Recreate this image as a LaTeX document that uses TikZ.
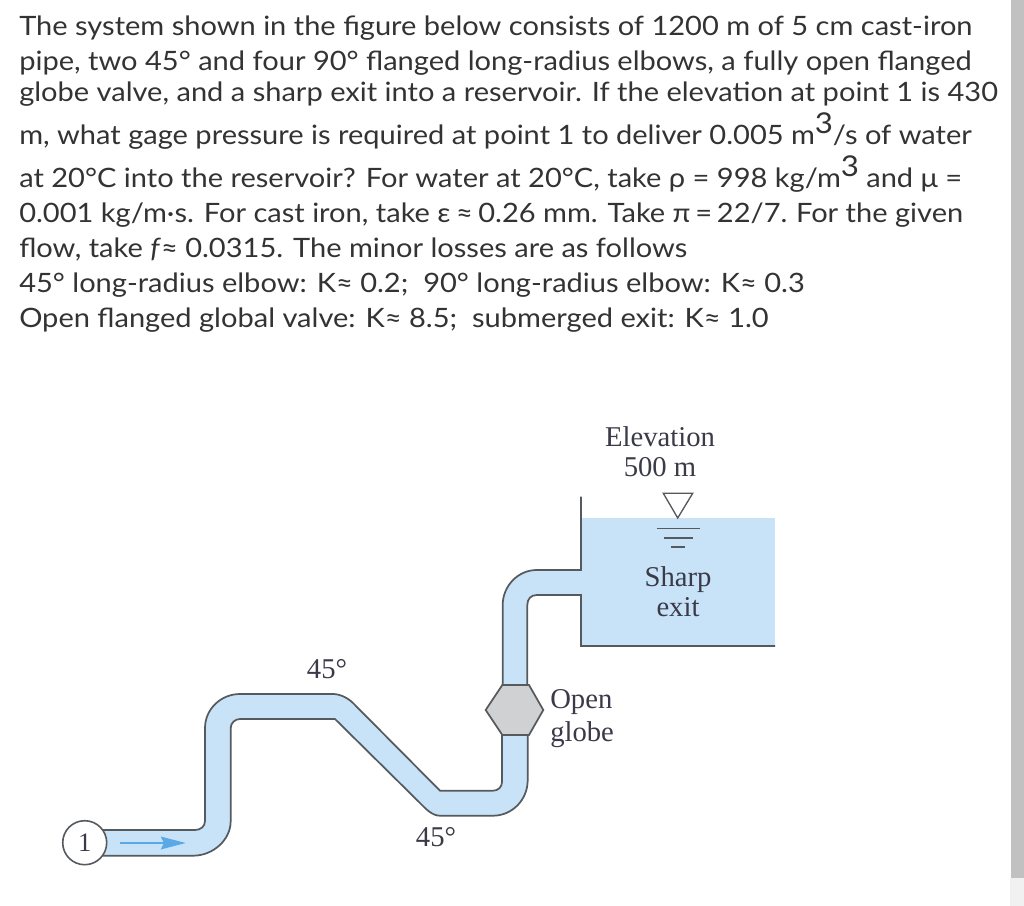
\documentclass[tikz,border=0pt]{standalone}
\usepackage{fontspec}
\setmainfont[FakeStretch=1.089]{Lato}
\newfontfamily\labelfont{Liberation Serif}
\definecolor{txt}{HTML}{333333}
\definecolor{lbl}{HTML}{3A3A48}
\definecolor{water}{HTML}{C8E3F8}
\definecolor{edge}{HTML}{555A5E}
\definecolor{valve}{HTML}{D0D1D3}
\definecolor{flow}{HTML}{5AA9E6}
\definecolor{bar}{HTML}{C1C1C1}
\definecolor{barend}{HTML}{F1F1F1}
\tikzset{
  x=0.75pt,y=-0.75pt,
  body/.style={anchor=base west,inner sep=0pt,text=txt,font=\fontsize{20}{24}\selectfont},
  serif/.style={anchor=base,inner sep=0pt,text=lbl,font=\labelfont\fontsize{21.5}{24}\selectfont},
  wall/.style={draw=edge,line width=1.3pt},
  wallthin/.style={draw=edge,line width=1pt}
}
\newcommand{\supthree}{\raisebox{8pt}{\fontsize{21.5}{24}\selectfont 3}}
\begin{document}
\begin{tikzpicture}
\useasboundingbox (0,0) rectangle (1024,906);
\fill[white] (0,0) rectangle (1024,906);
\fill[bar] (1011,0) rectangle (1024,878);
\fill[barend] (1010,878) rectangle (1024,906);
% text
\node[body] (t1) at (19,36) {The system shown in the figure below consists of 1200 m of 5 cm cast-iron};
\node[body] (t2) at (19,70) {pipe, two 45° and four 90° flanged long-radius elbows, a fully open flanged};
\node[body] (t3) at (19,102) {globe valve, and a sharp exit into a reservoir. If the elevation at point 1 is 430};
\node[body] (t4) at (19,144) {m, what gage pressure is required at point 1 to deliver 0.005 m\supthree/s of water};
\node[body] (t5) at (19,187) {at 20°C into the reservoir? For water at 20°C, take ρ = 998 kg/m\supthree\ and μ =};
\node[body] (t6) at (19,222) {0.001 kg/m·s. For cast iron, take ε\hspace{-1.5pt} ≈\hspace{-1.5pt} 0.26 mm. Take π\hspace{-2pt} =\hspace{-2pt} 22/7.\hspace{-1pt} For the given};
\node[body] (t7) at (19,257) {flow, take \textit{f}≈ 0.0315. The minor losses are as follows};
\node[body] (t8) at (19,292) {45° long-radius elbow: K≈ 0.2;\ \ 90° long-radius elbow: K≈ 0.3};
\node[body] (t9) at (19,327) {Open flanged global valve: K≈ 8.5;\ \ submerged exit: K≈ 1.0};
% reservoir
\fill[water] (581,518) rectangle (775,646);
% pipes
\fill[water] (103,830) -- (195,830) .. controls (200.5,830) and (205,826.5) .. (205,821)
  -- (205,728) .. controls (205,709) and (221,694) .. (240,694)
  -- (333,694) .. controls (340,694) and (348,698) .. (353,703)
  -- (440,790.7) -- (493,790.7) .. controls (498,790.7) and (502,787) .. (502,782)
  -- (502,685) -- (502.7,605) .. controls (502.7,586) and (518,570) .. (536.7,570)
  -- (582,570) -- (582,595) -- (536.7,595) .. controls (531,595) and (527.3,599) .. (527.3,605)
  -- (527.7,780) .. controls (527.7,800) and (512,815.7) .. (493,815.7)
  -- (440,815.7) .. controls (432,815.7) and (426,809) .. (420,803)
  -- (335,719) -- (240,719) .. controls (235,719) and (230.7,723) .. (230.7,728)
  -- (230.7,821) .. controls (230.7,840) and (213,855.7) .. (193,855.7)
  -- (103,855.7) -- cycle;
% lower pipe edges
\draw[wall] (103,830) -- (195,830) .. controls (200.5,830) and (205,826.5) .. (205,821)
  -- (205,728) .. controls (205,709) and (221,694) .. (240,694)
  -- (333,694) .. controls (340,694) and (348,698) .. (353,703)
  -- (440,790.7) -- (493,790.7) .. controls (498,790.7) and (502,787) .. (502,782) -- (502,735);
\draw[wall] (103,855.7) -- (193,855.7) .. controls (213,855.7) and (230.7,840) .. (230.7,821)
  -- (230.7,728) .. controls (230.7,723) and (235,719) .. (240,719)
  -- (335,719) -- (420,803) .. controls (426,809) and (432,815.7) .. (440,815.7)
  -- (493,815.7) .. controls (512,815.7) and (527.7,800) .. (527.7,780) -- (527.7,735);
% upper pipe edges
\draw[wall] (502.7,685) -- (502.7,605) .. controls (502.7,586) and (518,570) .. (536.7,570)
  -- (581,570) -- (581,496.7);
\draw[wall] (527.3,685) -- (527.3,605) .. controls (527.3,599) and (531,595) .. (536.7,595)
  -- (581,595) -- (581,646) -- (775,646);
% valve
\filldraw[wall,fill=valve] (485.7,710) -- (502.3,685) -- (529,685) -- (543.3,710) -- (529,735) -- (502.3,735) -- cycle;
% free surface symbol
\draw[wallthin,fill=white] (663.3,493.3) -- (692.7,493.3) -- (677.7,518) -- cycle;
\draw[wallthin] (656.7,528.7) -- (700,528.7);
\draw[wallthin] (664,538) -- (692.7,538);
\draw[wallthin] (671,547) -- (685,547);
% section marker
\node[circle,draw=edge,line width=1.2pt,fill=white,minimum size=33pt,inner sep=0pt,text=lbl,font=\labelfont\fontsize{20}{22}\selectfont] (p1) at (84.7,842.7) {1};
\coordinate (a1) at (120,843);
\coordinate (a2) at (185.7,843);
\draw[flow,line width=2pt] (a1) -- (165,843);
\fill[flow] (160.7,836.5) -- (a2) -- (160.7,849.5) -- (164,843) -- cycle;
% labels
\node[serif] (e1) at (660,446.5) {Elevation};
\node[serif] (e2) at (660,476.5) {500 m};
\node[serif] (s1) at (678,586) {Sharp};
\node[serif] (s2) at (678,616.5) {exit};
\node[serif,anchor=base west] (o1) at (550,708) {Open};
\node[serif,anchor=base west] (o2) at (550,741) {globe};
\node[serif] (a45a) at (327,678) {45°};
\node[serif] (a45b) at (436,846.5) {45°};
\end{tikzpicture}
\end{document}
